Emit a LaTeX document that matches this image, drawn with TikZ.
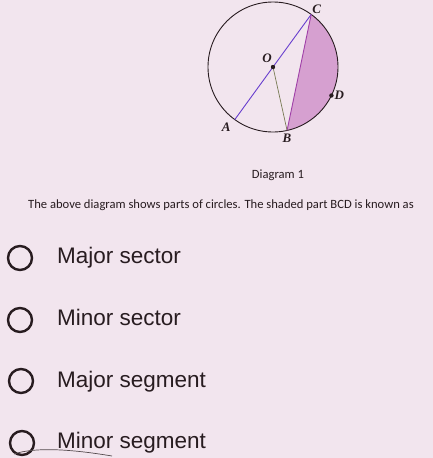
\documentclass[tikz,border=0pt]{standalone}
\usepackage{fontspec}
\setmainfont{Liberation Sans}
\newfontfamily\notefont{Carlito}
\newfontfamily\pointfont{Liberation Serif}
\usetikzlibrary{positioning,calc}

\definecolor{pagebg}{RGB}{242,229,238}
\definecolor{shadefill}{RGB}{214,160,208}
\definecolor{diamline}{RGB}{104,62,206}
\definecolor{chordline}{RGB}{160,64,168}
\definecolor{radline}{RGB}{120,122,84}
\definecolor{inkline}{RGB}{40,28,32}

\tikzset{
    ptlabel/.style={font=\pointfont\bfseries\itshape\fontsize{13}{13}\selectfont, text=inkline, inner sep=1pt},
    radio/.style={circle, draw=inkline, line width=2.4pt, minimum size=24pt, inner sep=0pt},
    choice/.style={anchor=base west, font=\fontsize{22.5}{24}\selectfont, text=inkline, inner sep=0pt},
    note/.style={font=\notefont\fontsize{12.6}{14}\selectfont, text=inkline, inner sep=0pt}
}

\begin{document}
\begin{tikzpicture}[x=1pt, y=-1pt]
    \fill[pagebg] (0,0) rectangle (433,458);
    \useasboundingbox (0,0) rectangle (433,458);

    % circle with O, A, B, C, D
    \begin{scope}[shift={(273,67)}, y=1pt]
        \coordinate (O) at (0,0);
        \coordinate (C) at (54:65);
        \coordinate (A) at (234:65);
        \coordinate (B) at (-77.5:65);
        \coordinate (D) at (-26:65);
        \fill[shadefill] (B) arc (-77.5:54:65) -- cycle;
        \draw[inkline, line width=0.9pt] (O) circle (65);
        \draw[diamline, line width=0.9pt] (A) -- (C);
        \draw[chordline, line width=0.9pt] (B) -- (C);
        \draw[radline, line width=0.7pt] (O) -- (B);
        \fill[inkline] (O) circle (2.2);
        \fill[inkline] (D) circle (2.2);
        \node[ptlabel, above right=0pt and 0pt of C] {C};
        \node[ptlabel, above left=3pt and 0pt of O] {O};
        \node[ptlabel, right=2pt of D] {D};
        \node[ptlabel, below left=2pt and 3pt of A] {A};
        \node[ptlabel, below=2pt of B] {B};
    \end{scope}

    \node[note, anchor=base] (cap) at (278,178) {Diagram 1};
    \node[note, anchor=base west] (question) at (28,208)
        {The above diagram shows parts of circles. The shaded part BCD is known as};

    % answer options
    \node[radio] (r1) at (20,258) {};
    \node[radio] (r2) at (20,320) {};
    \node[radio] (r3) at (21,381) {};
    \node[radio] (r4) at (22,443) {};
    \node[choice] (c1) at (57,263) {Major sector};
    \node[choice] (c2) at (57,325) {Minor sector};
    \node[choice] (c3) at (57,387) {Major segment};
    \node[choice] (c4) at (57,448) {Minor segment};

    % pen mark under the last option
    \draw[inkline!80, line width=0.7pt] (14,454) .. controls (35,447) and (70,449) .. (112,456);
\end{tikzpicture}
\end{document}
